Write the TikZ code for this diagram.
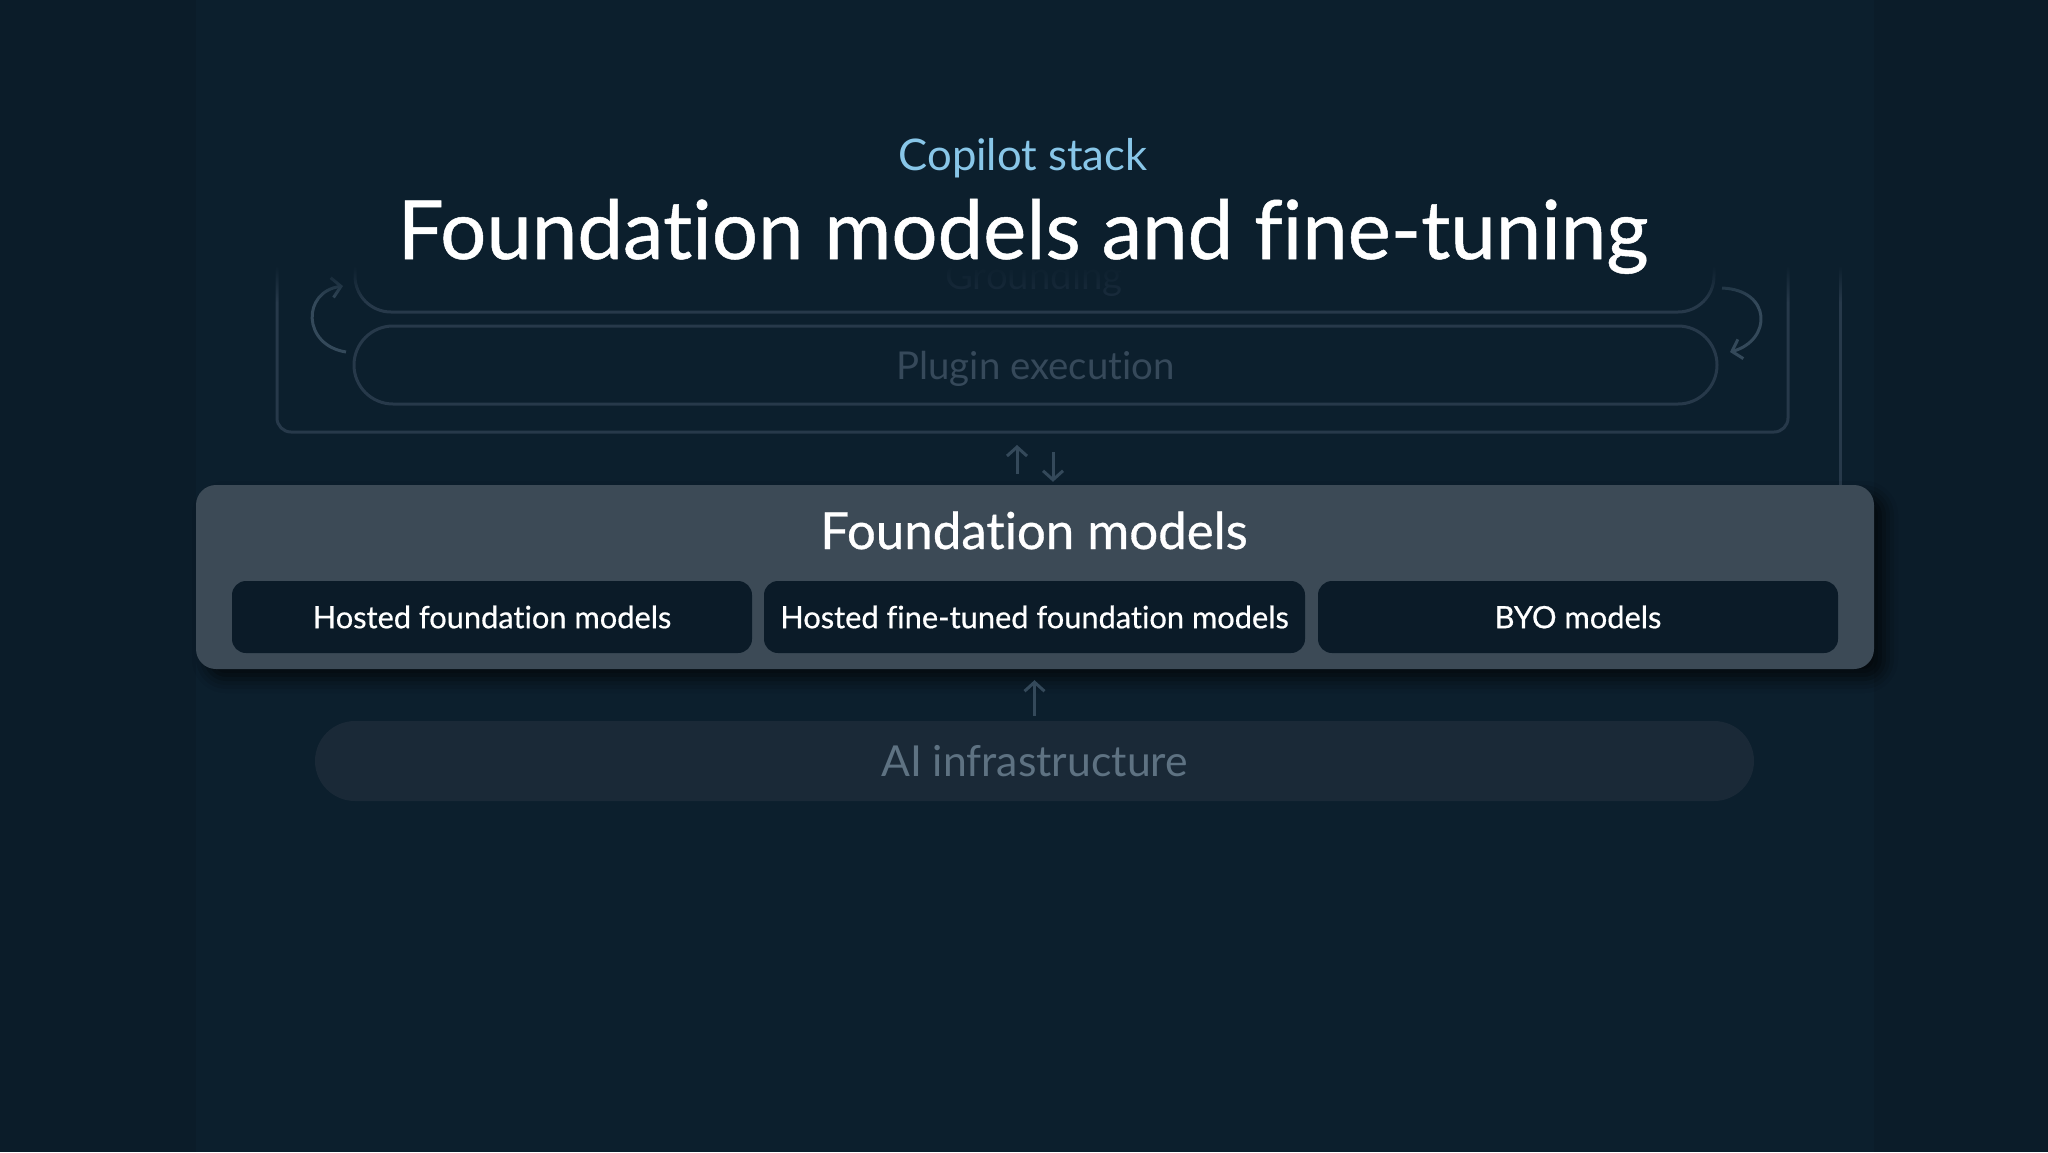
\documentclass[tikz,border=0pt]{standalone}
\usepackage{fontspec}
\setmainfont{Lato}[Ligatures=NoCommon]
\newfontfamily\medfont{Lato}[Ligatures=NoCommon, FakeBold=0.6]
\usetikzlibrary{arrows.meta,fadings,shadows.blur}
\definecolor{bg}{HTML}{0B1C29}
\definecolor{panel}{HTML}{0C1F2D}
\definecolor{lineC}{HTML}{27394A}
\definecolor{plugText}{HTML}{36495A}
\definecolor{groundText}{HTML}{1C2E3F}
\definecolor{arrC}{HTML}{34495A}
\definecolor{mainFill}{HTML}{3C4A56}
\definecolor{subFill}{HTML}{0B1B28}
\definecolor{aiFill}{HTML}{1A2937}
\definecolor{aiText}{HTML}{5E7282}
\definecolor{copC}{HTML}{88C6E8}
\tikzfading[name=fadedown, top color=transparent!0, bottom color=transparent!100]
\begin{document}
\begin{tikzpicture}[x=1pt,y=-1pt,
  faint/.style={draw=lineC, line width=3pt},
  arr/.style={draw=arrC, line width=3pt, -{Straight Barb[length=9pt,width=20pt]}},
  plugbox/.style={draw=lineC, line width=3pt, rounded corners=39pt, minimum width=1363pt, minimum height=78pt, inner sep=0pt, text=plugText, text depth=0pt, font=\fontsize{38.4}{42}\selectfont},
  mainbox/.style={fill=mainFill, rounded corners=20pt, minimum width=1678pt, minimum height=184pt, inner sep=0pt,
    blur shadow={shadow xshift=10pt, shadow yshift=-10pt, shadow opacity=70, shadow blur radius=14pt}},
  subbox/.style={fill=subFill, rounded corners=14pt, minimum height=72pt, inner sep=0pt, text=white, font=\medfont\fontsize{30.8}{34}\selectfont},
  aibox/.style={fill=aiFill, rounded corners=40pt, minimum width=1439pt, minimum height=80pt, inner sep=0pt, text=aiText, font=\fontsize{42.7}{46}\selectfont},
  titletext/.style={anchor=base, text=white, inner sep=0pt, font=\medfont\fontsize{81.5}{88}\selectfont},
  subtitletext/.style={anchor=base, text=copC, inner sep=0pt, font=\fontsize{43.6}{48}\selectfont},
  hdrtext/.style={anchor=base, text=white, inner sep=0pt, font=\medfont\fontsize{51}{56}\selectfont}
]
\fill[bg] (0,0) rectangle (2048,1152);
\useasboundingbox (0,0) rectangle (2048,1152);
\fill[panel] (196,0) rectangle (1874,1152);

% faded upper layers
\draw[faint, rounded corners=14pt] (277,240) -- (277,432) -- (1788,432) -- (1788,240);
\draw[faint, rounded corners=36pt] (355,230) -- (355,312) -- (1714,312) -- (1714,230);
\draw[faint] (1840,240) -- (1840,485);
\node[anchor=base, text=groundText, inner sep=0pt, font=\fontsize{38.4}{42}\selectfont] (grd) at (1034,289) {Grounding};
\node[plugbox] (plug) at (1035.5,365) {Plugin execution};

\coordinate (lA) at (346,352);
\coordinate (lB) at (343,286);
\coordinate (rA) at (1722,288);
\coordinate (rB) at (1730,352);
\draw[arr] (lA) .. controls (302,345) and (302,292) .. (lB);
\draw[arr] (rA) .. controls (1772,290) and (1772,340) .. (rB);

% fade over the top of the faint layers
\fill[panel] (200,220) rectangle (1870,266);
\fill[panel, path fading=fadedown] (200,265) rectangle (1870,302);

% titles
\node[subtitletext] (cop) at (1023,170) {Copilot stack};
\node[titletext] (ttl) at (1023,259) {Foundation models and fine-tuning};

% main box
\node[mainbox] (fm) at (1035,577) {};
\node[hdrtext] (fmt) at (1034,549) {Foundation models};
\node[subbox, minimum width=520pt] (h1) at (492,617) {Hosted foundation models};
\node[subbox, minimum width=541pt] (h2) at (1034.5,617) {Hosted fine-tuned foundation models};
\node[subbox, minimum width=520pt] (h3) at (1578,617) {BYO models};

% AI infrastructure
\node[aibox] (ai) at (1034.5,761) {AI infrastructure};

% arrows
\coordinate (frB1) at (1017,432);
\coordinate (frB2) at (1053,432);
\draw[arr, shorten <=11pt, shorten >=13pt] (frB1 |- fm.north) -- (frB1);
\draw[arr, shorten <=20pt, shorten >=3pt] (frB2) -- (frB2 |- fm.north);
\draw[arr, shorten <=5pt, shorten >=11pt] (ai.north) -- (ai.north |- fm.south);
\end{tikzpicture}
\end{document}
